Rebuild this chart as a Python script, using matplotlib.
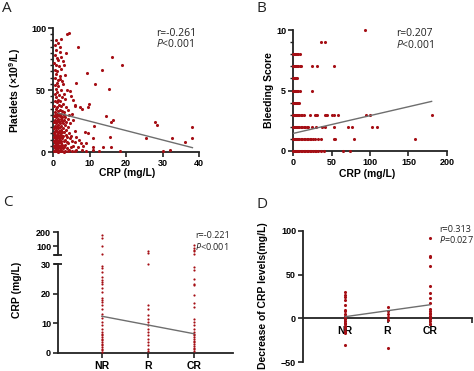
import matplotlib
matplotlib.use("Agg")
import matplotlib.pyplot as plt
import numpy as np

plt.rcParams['font.family'] = ['Liberation Sans', 'DejaVu Sans']
plt.rcParams['mathtext.fontset'] = 'custom'
plt.rcParams['mathtext.it'] = 'Open Sans:style=italic:weight=normal'
plt.rcParams['mathtext.rm'] = 'Open Sans:weight=normal'
plt.rcParams['mathtext.bf'] = 'Liberation Sans:weight=bold'

DOT = '#a50f15'
LINE = '#6e6e6e'

# ---------------- panel A: platelets vs CRP ----------------
a_crp = [4.3, 3.9, 2.3, 1.4, 0.5, 0.9, 1.8, 0.5, 2.3, 1.4, 2.7, 0.9, 1.6, 2.3, 0.5, 1.2, 0.9, 3.2, 2.0, 0.6,
         1.5, 2.6, 1.0, 0.4, 1.1, 3.0, 0.7, 1.9, 3.5,
         1.8, 2.7, 0.6, 1.4, 3.7, 0.9, 2.2, 4.6, 1.2, 0.5, 2.9, 1.7, 5.0, 0.8, 2.4, 3.4, 1.3, 5.5, 0.6, 2.0,
         1.0, 2.8, 1.6, 6.0, 0.4, 2.3, 3.6, 1.2, 0.8, 1.9, 4.2, 2.6, 1.4, 0.6, 3.1, 2.1, 1.0, 5.2, 1.7, 0.5,
         2.9, 4.5,
         0.4, 1.1, 1.8, 2.5, 3.3, 0.7, 1.5, 2.2, 4.0, 0.5, 1.3, 2.9, 5.5, 0.9, 1.7, 2.4, 3.6, 0.4, 1.2, 2.0,
         2.8, 0.7, 4.7, 1.5, 3.2, 0.5, 1.0, 2.3, 1.8, 4.1, 0.8, 2.7, 1.3, 0.4, 3.5, 2.1, 0.9, 1.6, 5.9, 0.6,
         2.5, 1.1, 3.0, 0.4, 1.9, 4.4, 1.4,
         0.5, 1.2, 2.2, 3.5, 0.8, 1.7, 2.8, 5.0, 0.4, 1.3, 2.0, 3.9, 6.4, 0.9, 1.6, 2.5, 4.6, 0.6, 1.1, 1.9,
         3.2, 7.0, 0.4, 1.4, 2.3, 2.9, 5.3, 0.8, 1.7, 3.7, 6.1, 0.5, 1.2, 2.1, 4.2, 7.6, 0.9, 1.5, 2.6, 3.4,
         0.4, 1.0, 1.8, 5.6, 8.2, 0.7, 1.3, 2.4, 3.1, 4.8, 6.8, 0.5, 1.1, 1.9, 2.8, 3.8, 0.8, 1.5, 2.2, 4.4,
         6.3, 7.9, 0.4, 1.2, 1.7, 2.6, 3.3, 5.1, 0.6, 1.0, 1.4, 2.0, 2.9, 4.0, 6.0, 9.0,
         6.9, 16.3, 19.0, 13.4, 9.4, 11.6, 15.4, 6.4, 5.9, 7.3, 8.0, 9.7, 9.9, 14.4, 16.4, 16.0, 11.2, 28.0,
         28.5, 38.0, 38.0, 25.6, 32.5, 36.1, 15.5, 30.0, 32.0, 15.8, 13.7, 10.9, 9.1, 9.6, 8.7, 18.3, 10.9,
         12.5, 11.0]
a_plt = [96, 95, 91, 88, 86, 82, 81, 78, 77, 74, 73, 70, 69, 67, 66, 65, 63, 62, 61, 60,
         58, 57, 56, 72, 76, 70, 90, 85, 80,
         59, 55, 54, 53, 50, 51, 50, 49, 48, 47, 47, 46, 45, 44, 44, 43, 42, 42, 41, 41,
         40, 39, 38, 38, 37, 37, 36, 36, 35, 34, 34, 33, 33, 32, 32, 31, 31, 31, 30, 30,
         30, 30,
         29, 29, 29, 28, 28, 28, 27, 27, 27, 26, 26, 26, 26, 25, 25, 25, 24, 24, 24, 23,
         23, 23, 23, 22, 22, 21, 21, 21, 20, 20, 20, 19, 19, 19, 18, 18, 18, 17, 17, 17,
         16, 16, 16, 15, 15, 15, 15,
         14, 14, 14, 14, 13, 13, 13, 13, 12, 12, 12, 12, 12, 11, 11, 11, 11, 10, 10, 10,
         10, 10, 9, 9, 9, 9, 9, 8, 8, 8, 8, 7, 7, 7, 7, 7, 6, 6, 6, 6,
         5, 5, 5, 5, 5, 4, 4, 4, 4, 4, 4, 3, 3, 3, 3, 3, 2, 2, 2, 2,
         2, 2, 1, 1, 1, 1, 1, 1, 0.5, 0.5, 0.3, 0.5, 0.3, 0.5, 0.5, 0.5,
         85, 77, 70, 66, 64, 55, 51, 56, 37, 36, 35, 36, 39, 29, 26, 24, 21, 24,
         22, 20, 11, 11, 11, 8, 12, 1, 2, 4, 4, 4, 7, 15, 16, 1, 11,
         1, 2]
a_fit_x = [1.5, 38.2]
a_fit_y = [31.3, 3.5]

# ---------------- panel B: bleeding score vs CRP ----------------
b_levels = {
    10: [93],
    9: [36, 41],
    8: [0.5, 1.5, 2.5, 4, 5.5, 7, 9],
    7: [0.5, 1.5, 2.5, 3.5, 5, 6.5, 9, 11, 25, 31, 53],
    6: [0.5, 1.5, 2.5, 3.5, 5],
    5: [0.5, 1.5, 2.5, 3.5, 5, 7, 9.5, 25],
    4: [0.5, 1.5, 2.5, 3.5, 5, 6.5, 8],
    3: [0.5, 1.5, 2.5, 3.5, 5, 6.5, 8, 10, 12, 14, 22, 28, 30, 31, 41, 43, 44, 50, 53, 59, 95, 100, 180],
    2: [0.5, 1.5, 2.5, 3.5, 5, 6.5, 8, 10, 12, 14, 16, 18, 20, 25, 30, 38, 41, 53, 71, 77, 103, 109],
    1: [0.5, 1.5, 2.5, 3.5, 5, 6.5, 8, 10, 12, 14, 16, 18, 20, 22, 24, 26, 28, 33, 36, 53, 55, 79, 158],
    0: [0.5, 1.5, 2.5, 3.5, 5, 6.5, 8, 10, 12, 14, 16, 18, 20, 22, 24, 26, 28, 30, 33, 36, 40, 65, 74],
}
b_fit_x = [0, 180]
b_fit_y = [1.45, 4.1]

# ---------------- panel C: CRP by response ----------------
groups = ['NR', 'R', 'CR']
c_nr = [177, 158, 104, 46, 29.3, 28.5, 27.4, 25.7, 24.6, 23.8, 23.2, 21.8, 20.6, 18.4, 17.8, 17.2, 16.1,
        14.8, 13.3, 11.9, 10.5, 9.4, 8.2, 7.1, 6.5, 6.0, 5.4, 4.8, 4.3, 3.7, 3.2, 2.6, 2.0, 1.5, 0.9, 0.3]
c_r = [65, 54, 30, 16.1, 15, 12.7, 11.6, 10.5, 9.4, 8.2, 7.1, 6.0, 4.8, 3.7, 2.6, 1.5, 0.7]
c_cr = [107, 88, 77, 65, 49, 29.1, 28, 25.1, 23.4, 22.9, 19.5, 16.7, 15.6, 11.6, 10.5, 9.4, 8.2, 7.1,
        6.5, 6.0, 5.4, 4.8, 4.2, 3.6, 3.0, 2.4, 1.8, 1.2, 0.6]
c_fit = [12.4, 9.45, 6.5]

# ---------------- panel D: decrease of CRP by response ----------------
d_nr = [29.8, 27, 25, 21, 15, 10, 8, 5, 3, 1, -1, -3, -5, -7, -9, -11, -14, -17, -31]
d_r = [13, 8, 4.5, 1.5, -2, -34]
d_cr = [92.5, 71, 70, 60, 37, 29, 23, 18, 11, 8, 6, 4.5, 3, 1, -1, -3, -6, -7]
d_fit = [1.9, 8.7, 15.5]

W, H = 474, 371
fig = plt.figure(figsize=(W / 100, H / 100), dpi=100)


def rect(x0, y0, x1, y1):
    # pixel box (left, top, right, bottom) -> figure fraction
    return [x0 / W, 1 - y1 / H, (x1 - x0) / W, (y1 - y0) / H]


def style(ax, size=6.5):
    for s in ['top', 'right']:
        ax.spines[s].set_visible(False)
    for s in ['left', 'bottom']:
        ax.spines[s].set_linewidth(1.3)
        ax.spines[s].set_color('#222222')
    ax.tick_params(width=1.2, length=3.5, labelsize=size, pad=1.5, color='#222222')
    ax.tick_params(which='minor', width=1.0, length=2, color='#222222')
    for lab in ax.get_xticklabels() + ax.get_yticklabels():
        lab.set_fontweight('bold')


def stats(x, y, r, p, size=7.5):
    fig.text(x / W, 1 - y / H, r, fontsize=size, family=['Open Sans', 'DejaVu Sans'],
             va='center', color='#222222')
    fig.text(x / W, 1 - (y + 11) / H, p, fontsize=size, family=['Open Sans', 'DejaVu Sans'],
             va='center', color='#222222')


def letter(x, y, t):
    fig.text(x / W, 1 - y / H, t, fontsize=11, family=['Open Sans', 'DejaVu Sans'],
             va='center', color='#222222')


# A
axA = fig.add_axes(rect(53, 28, 199, 152))
axA.scatter(a_crp, a_plt, s=5, color=DOT, linewidths=0, clip_on=False, zorder=3)
axA.plot(a_fit_x, a_fit_y, color=LINE, lw=1.0, zorder=4)
axA.set_xlim(0, 40)
axA.set_ylim(0, 100)
axA.set_xticks([0, 10, 20, 30, 40])
axA.set_yticks([0, 50, 100])
axA.set_yticks(np.arange(0, 101, 5), minor=True)
style(axA)
fig.text(15 / W, 1 - 90 / H, 'Platelets (×10$^{\\mathbf{9}}$/L)', rotation=90, ha='center', va='center',
         fontsize=7.5, fontweight='bold')
fig.text(127 / W, 1 - 173 / H, 'CRP (mg/L)', ha='center', va='center', fontsize=7.5, fontweight='bold')
stats(156, 33, 'r=-0.261', '$\\it{P}$<0.001')
letter(2, 8, 'A')

# B
axB = fig.add_axes(rect(293, 30, 447, 151))
bx = [x for lv in b_levels for x in b_levels[lv]]
by = [lv for lv in b_levels for x in b_levels[lv]]
axB.scatter(bx, by, s=5, color=DOT, linewidths=0, clip_on=False, zorder=3)
axB.plot(b_fit_x, b_fit_y, color=LINE, lw=1.0, zorder=4)
axB.set_xlim(0, 200)
axB.set_ylim(0, 10)
axB.set_xticks([0, 50, 100, 150, 200])
axB.set_yticks([0, 5, 10])
axB.set_yticks(np.arange(0, 11, 1), minor=True)
style(axB)
fig.text(269 / W, 1 - 90 / H, 'Bleeding Score', rotation=90, ha='center', va='center',
         fontsize=7.5, fontweight='bold')
fig.text(367 / W, 1 - 174 / H, 'CRP (mg/L)', ha='center', va='center', fontsize=7.5, fontweight='bold')
stats(396, 34, 'r=0.207', '$\\it{P}$<0.001')
letter(257, 8, 'B')

# C (broken y axis)
xpos = [1, 2, 3]
axC = fig.add_axes(rect(58, 264, 233, 353))
axCu = fig.add_axes(rect(58, 232, 233, 255))
for i, vals in enumerate([c_nr, c_r, c_cr]):
    lo = [v for v in vals if v <= 30]
    hi = [v for v in vals if v > 30]
    axC.scatter([xpos[i]] * len(lo), lo, s=2.5, color=DOT, linewidths=0, clip_on=False, zorder=3)
    axCu.scatter([xpos[i]] * len(hi), hi, s=2.5, color=DOT, linewidths=0, clip_on=False, zorder=3)
axC.plot(xpos, c_fit, color=LINE, lw=1.0, zorder=4)
axC.set_xlim(0.05, 3.85)
axC.set_ylim(0, 30)
axC.set_xticks(xpos)
axC.set_xticklabels(groups)
axC.set_yticks([0, 10, 20, 30])
style(axC)
axC.tick_params(axis='x', labelsize=7.5, pad=2)
axCu.set_xlim(0.05, 3.85)
axCu.set_ylim(40, 200)
axCu.set_xticks([])
axCu.set_yticks([40, 100, 200])
axCu.set_yticklabels(['', '100', '200'])
style(axCu)
axCu.spines['bottom'].set_visible(False)
# break caps on both sides of the axis
axC.plot([0.05], [30], marker='_', ms=6, mew=1.3, color='#222222', clip_on=False, zorder=5)
axCu.plot([0.05], [40], marker='_', ms=6, mew=1.3, color='#222222', clip_on=False, zorder=5)
fig.text(17 / W, 1 - 290 / H, 'CRP (mg/L)', rotation=90, ha='center', va='center',
         fontsize=7.5, fontweight='bold')
stats(195, 236, 'r=-0.221', '$\\it{P}$<0.001', size=6.5)
letter(3, 203, 'C')

# D
axD = fig.add_axes(rect(303, 231, 472, 362))
axD.scatter([1] * len(d_nr), d_nr, s=5, color=DOT, linewidths=0, clip_on=False, zorder=3)
axD.scatter([2] * len(d_r), d_r, s=5, color=DOT, linewidths=0, clip_on=False, zorder=3)
axD.scatter([3] * len(d_cr), d_cr, s=5, color=DOT, linewidths=0, clip_on=False, zorder=3)
axD.plot([1, 2, 3], d_fit, color=LINE, lw=1.0, zorder=4)
axD.set_xlim(0, 4)
axD.set_ylim(-50, 100)
axD.spines['bottom'].set_position(('data', 0))
axD.set_xticks([1, 2, 3, 4])
axD.set_xticklabels(groups + [''])
axD.set_yticks([-50, 0, 50, 100])
style(axD)
axD.tick_params(axis='x', labelsize=7.5, pad=2)
fig.text(263 / W, 1 - 296 / H, 'Decrease of CRP levels(mg/L)', rotation=90, ha='center', va='center',
         fontsize=7.5, fontweight='bold')
stats(439, 229, 'r=0.313', '$\\it{P}$=0.027', size=6.5)
letter(257, 205, 'D')

fig.savefig('out.png', dpi=100)
